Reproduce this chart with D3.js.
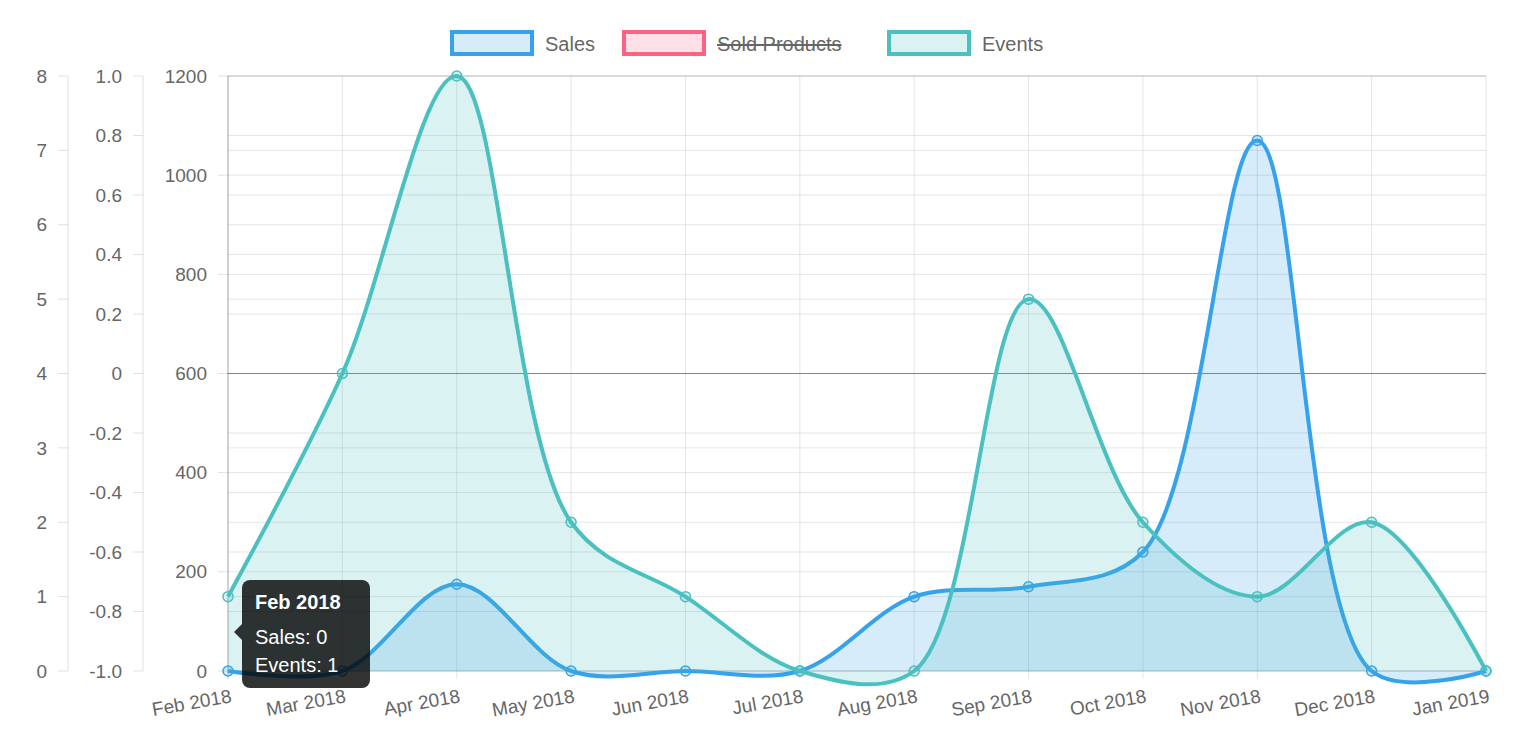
<!DOCTYPE html>
<html><head><meta charset="utf-8">
<script src="https://cdn.jsdelivr.net/npm/d3@7"></script>
<style>body{margin:0;background:#fff;font-family:"Liberation Sans",Arial,sans-serif}</style>
</head><body><div id="chart"></div>
<script>
var months = ["Feb 2018","Mar 2018","Apr 2018","May 2018","Jun 2018","Jul 2018","Aug 2018","Sep 2018","Oct 2018","Nov 2018","Dec 2018","Jan 2019"];
var sales = [0, 0, 175, 0, 0, 0, 150, 170, 240, 1070, 0, 0];
var events = [1, 4, 8, 2, 1, 0, 0, 5, 2, 1, 2, 0];
var salesTicks = [0,200,400,600,800,1000,1200];
var eventTicks = [0,1,2,3,4,5,6,7,8];
var soldTicks = [-1,-0.8,-0.6,-0.4,-0.2,0,0.2,0.4,0.6,0.8,1];

var W = 1528, H = 750;
var pLeft = 228, pRight = 1486, pTop = 76, pBottom = 671;
var svg = d3.select("#chart").append("svg").attr("width", W).attr("height", H);

var x = d3.scalePoint().domain(months).range([pLeft, pRight]);
var ySales = d3.scaleLinear().domain([0,1200]).range([pBottom, pTop]);
var yEvents = d3.scaleLinear().domain([0,8]).range([pBottom, pTop]);
var ySold = d3.scaleLinear().domain([-1,1]).range([pBottom, pTop]);

// grid lines
var grid = svg.append("g");
function hgrid(scale, ticks, isZero) {
  ticks.forEach(function(t) {
    grid.append("line").attr("x1", pLeft).attr("x2", pRight)
      .attr("y1", scale(t)).attr("y2", scale(t))
      .attr("stroke", isZero && t === 0 ? "rgba(0,0,0,0.35)" : "rgba(0,0,0,0.1)");
  });
}
hgrid(yEvents, eventTicks);
hgrid(ySold, soldTicks, true);
hgrid(ySales, salesTicks);
months.forEach(function(m) {
  grid.append("line").attr("x1", x(m)).attr("x2", x(m)).attr("y1", pTop).attr("y2", pBottom + 8)
    .attr("stroke", m === months[0] ? "rgba(0,0,0,0.25)" : "rgba(0,0,0,0.1)");
});

// y axes
function yaxis(scale, ticks, ax, fmt) {
  var g = svg.append("g").attr("transform", "translate(" + ax + ",0)");
  g.append("line").attr("x1", 0).attr("x2", 0).attr("y1", pTop).attr("y2", pBottom).attr("stroke", "rgba(0,0,0,0.12)");
  ticks.forEach(function(t) {
    g.append("line").attr("x1", -10).attr("x2", 0).attr("y1", scale(t)).attr("y2", scale(t)).attr("stroke", "rgba(0,0,0,0.12)");
    g.append("text").attr("x", -21).attr("y", scale(t)).attr("dy", "0.35em")
      .attr("text-anchor", "end").attr("fill", "#666").style("font-size", "19px").text(fmt(t));
  });
}
yaxis(yEvents, eventTicks, 68, function(t){ return t; });
yaxis(ySold, soldTicks, 143, function(t){ return Math.abs(t) < 1e-9 ? "0" : d3.format(".1f")(t).replace("−", "-"); });
yaxis(ySales, salesTicks, 228, function(t){ return t; });

// x labels
months.forEach(function(m) {
  svg.append("text").attr("transform", "translate(" + (x(m) + 2) + "," + (pBottom + 18) + ") rotate(-10)")
    .attr("text-anchor", "end").attr("dy", "0.7em").attr("fill", "#666").style("font-size", "19px").text(m);
});

// series
function series(vals, scale, color, fill) {
  var area = d3.area().x(function(d,i){ return x(months[i]); }).y0(scale(0)).y1(function(d){ return scale(d); })
    .curve(d3.curveCatmullRom.alpha(0.5));
  var line = d3.line().x(function(d,i){ return x(months[i]); }).y(function(d){ return scale(d); })
    .curve(d3.curveCatmullRom.alpha(0.5));
  svg.append("path").datum(vals).attr("d", area).attr("fill", fill);
  svg.append("path").datum(vals).attr("d", line).attr("fill", "none").attr("stroke", color).attr("stroke-width", 4);
  svg.selectAll(null).data(vals).enter().append("circle")
    .attr("cx", function(d,i){ return x(months[i]); }).attr("cy", function(d){ return scale(d); })
    .attr("r", 5).attr("fill", fill).attr("stroke", color).attr("stroke-width", 1.5);
}
series(sales, ySales, "#36a2eb", "rgba(54,162,235,0.2)");
series(events, yEvents, "#4bc0c0", "rgba(75,192,192,0.2)");

// legend
var legend = [
  {name: "Sales", x: 450, color: "#36a2eb", fill: "rgba(54,162,235,0.2)", hidden: false},
  {name: "Sold Products", x: 622, color: "#ff6384", fill: "rgba(255,99,132,0.2)", hidden: true},
  {name: "Events", x: 887, color: "#4bc0c0", fill: "rgba(75,192,192,0.2)", hidden: false}
];
legend.forEach(function(l) {
  svg.append("rect").attr("x", l.x + 2).attr("y", 32).attr("width", 80).attr("height", 22)
    .attr("fill", l.fill).attr("stroke", l.color).attr("stroke-width", 4);
  var t = svg.append("text").attr("x", l.x + 95).attr("y", 51).attr("fill", "#666").style("font-size", "20px").text(l.name);
  if (l.hidden) t.style("text-decoration", "line-through");
});

// tooltip
var tx = x(months[0]) + 14, ty = 580;
var tip = svg.append("g");
tip.append("path").attr("d", "M" + (tx - 8) + "," + 632 + "l8,-8l0,16z").attr("fill", "rgba(0,0,0,0.8)");
tip.append("rect").attr("x", tx).attr("y", ty).attr("width", 128).attr("height", 108).attr("rx", 8)
  .attr("fill", "rgba(0,0,0,0.8)");
tip.append("text").attr("x", tx + 13).attr("y", ty + 29).attr("fill", "#fff").style("font-size", "20px").style("font-weight", "bold").text(months[0]);
tip.append("text").attr("x", tx + 13).attr("y", ty + 64).attr("fill", "#fff").style("font-size", "20px").text("Sales: " + sales[0]);
tip.append("text").attr("x", tx + 13).attr("y", ty + 92).attr("fill", "#fff").style("font-size", "20px").text("Events: " + events[0]);
</script></body></html>
